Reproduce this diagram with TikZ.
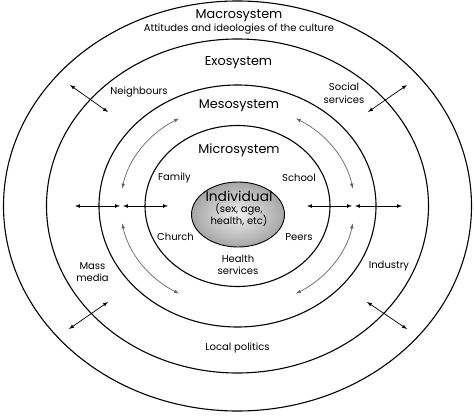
\documentclass[tikz,border=0pt]{standalone}
\usepackage{fontspec}
\setmainfont{Poppins}
\usetikzlibrary{arrows}

\begin{document}
\begin{tikzpicture}[x=1pt,y=-1pt]
            \tikzstyle{every node}+=[inner sep=0pt, align=center]
            \tikzstyle{ring}=[black, line width=1.1pt]
            \tikzstyle{link}=[black, line width=0.7pt, latex-latex]
            \tikzstyle{flow}=[gray!80!black, line width=0.7pt, latex-latex]
            \tikzstyle{big}=[font=\fontsize{12.8}{14}\selectfont]
            \tikzstyle{small}=[font=\fontsize{10}{12.5}\selectfont]
            \useasboundingbox (0,0) rectangle (474,417);
            \coordinate (c) at (237.5,206);
            % the four systems
            \draw [ring] (c) ellipse [x radius=234, y radius=205];
            \draw [ring] (c) ellipse [x radius=191, y radius=167];
            \draw [ring] (c) ellipse [x radius=138.5, y radius=121];
            \draw [ring] (c) ellipse [x radius=92.5, y radius=80.5];
            % the individual
            \draw [black, line width=0.9pt, shading=radial, inner color=gray!12, outer color=gray!70]
                  (238,214.5) ellipse [x radius=46.5, y radius=32.5];
            % links across the exosystem
            \draw [link] (70,85) -- (108,112);
            \draw [link] (407,85) -- (368,112);
            \draw [link] (69,329) -- (108,302);
            \draw [link] (407,329) -- (367,302);
            % links across the meso and micro systems
            \draw [link] (75,206) -- (120,206);
            \draw [link] (123,206) -- (168,206);
            \draw [link] (307,206) -- (352,206);
            \draw [link] (355,206) -- (402,206);
            % flows inside the mesosystem
            \draw [flow] (c) ++(-170:117 and 101) arc [start angle=-170, end angle=-120, x radius=117, y radius=101];
            \draw [flow] (c) ++(-10:117 and 101) arc [start angle=-10, end angle=-60, x radius=117, y radius=101];
            \draw [flow] (c) ++(170:117 and 101) arc [start angle=170, end angle=120, x radius=117, y radius=101];
            \draw [flow] (c) ++(10:117 and 101) arc [start angle=10, end angle=60, x radius=117, y radius=101];
            % labels
            \node [big] (macro) at (239,16) {Macrosystem};
            \node [small] (culture) at (239,29) {Attitudes and ideologies of the culture};
            \node [big] (exo) at (238.5,63) {Exosystem};
            \node [big] (meso) at (239,106) {Mesosystem};
            \node [big] (micro) at (239,150) {Microsystem};
            \node [font=\fontsize{13.8}{15}\selectfont] (indiv) at (239,196) {Individual};
            \node [small] (traits) at (239,215) {(sex, age,\\health, etc)};
            \node [small] (neigh) at (139,92) {Neighbours};
            \node [small] (social) at (344,93) {Social\\services};
            \node [small] (family) at (174.5,178) {Family};
            \node [small] (school) at (299,178) {School};
            \node [small] (church) at (175.5,237) {Church};
            \node [small] (peers) at (299,237) {Peers};
            \node [small] (health) at (238,265) {Health\\services};
            \node [small] (media) at (92.5,272) {Mass\\media};
            \node [small] (industry) at (389,266) {Industry};
            \node [small] (politics) at (237.5,348) {Local politics};
\end{tikzpicture}
\end{document}
